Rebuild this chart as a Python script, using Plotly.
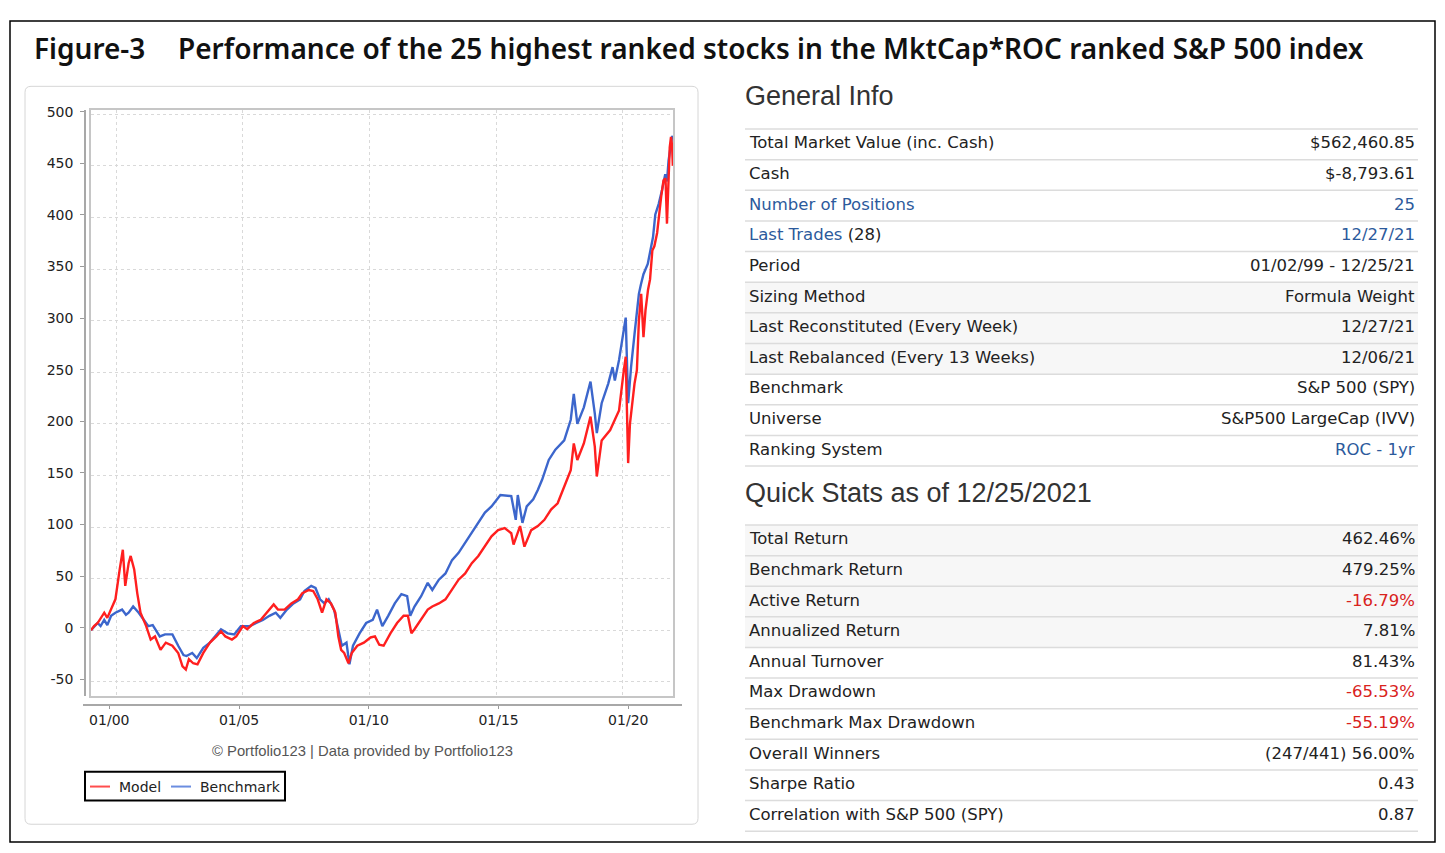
import plotly.graph_objects as go

W, H = 1445, 853

# ---------------- data ----------------
title_left = "Figure-3"
title_right = "Performance of the 25 highest ranked stocks in the MktCap*ROC ranked S&P 500 index"

model_dates = [
    "1999-01-02", "1999-02-15", "1999-04-08", "1999-05-20", "1999-07-12", "1999-08-25", "1999-10-19", "1999-12-20",
    "2000-02-20", "2000-04-05", "2000-05-10", "2000-06-28", "2000-07-27", "2000-09-16", "2000-10-30", "2000-12-16",
    "2001-03-08", "2001-05-12", "2001-07-13", "2001-10-01", "2001-12-16",
    "2002-03-21", "2002-06-13", "2002-08-14", "2002-10-01", "2002-11-14",
    "2003-01-15", "2003-03-18", "2003-06-10", "2003-09-13", "2003-12-16",
    "2004-02-20", "2004-04-23", "2004-07-27", "2004-09-27",
    "2005-01-01", "2005-03-04", "2005-06-07", "2005-09-13", "2005-12-16",
    "2006-03-21", "2006-05-22", "2006-08-25", "2006-12-01",
    "2007-03-08", "2007-05-08", "2007-08-11", "2007-10-12", "2007-12-16",
    "2008-02-17", "2008-04-20", "2008-06-25", "2008-08-26", "2008-10-09", "2008-11-18",
    "2009-01-01", "2009-03-04", "2009-04-20", "2009-07-09", "2009-10-12",
    "2010-01-16", "2010-03-21", "2010-05-22", "2010-07-24", "2010-10-30",
    "2011-02-03", "2011-05-08", "2011-07-09", "2011-08-29", "2011-10-12",
    "2012-01-16", "2012-04-20", "2012-06-25", "2012-09-28",
    "2013-01-01", "2013-04-06", "2013-07-09", "2013-10-12",
    "2014-01-16", "2014-04-20", "2014-07-24", "2014-10-27",
    "2015-01-30", "2015-05-05", "2015-08-08", "2015-09-10", "2015-12-13",
    "2016-02-14", "2016-05-22", "2016-08-25", "2016-11-28",
    "2017-03-04", "2017-06-07", "2017-08-08", "2017-12-13",
    "2018-01-26", "2018-03-18", "2018-06-20", "2018-09-24", "2018-11-25", "2018-12-24",
    "2019-03-04", "2019-07-05", "2019-09-10", "2019-11-10",
    "2020-01-12", "2020-02-14", "2020-03-20", "2020-04-15", "2020-06-20", "2020-07-24",
    "2020-08-22", "2020-09-24", "2020-10-27", "2020-11-25",
    "2021-01-01", "2021-01-30", "2021-03-04", "2021-04-02", "2021-05-12", "2021-06-10",
    "2021-07-09", "2021-08-12", "2021-09-10", "2021-10-01", "2021-11-10", "2021-11-28",
    "2021-12-13", "2021-12-25",
]
model_values = [
    0, 4, 7, 12, 17, 12, 20, 30,
    59, 78, 43, 65, 72, 59, 36, 17,
    4, -9, -6, -19, -12,
    -15, -22, -35, -38, -28,
    -32, -33, -22, -12, -6,
    -1, -6, -9, -6,
    4, 1, 7, 10, 17,
    25, 20, 20, 26,
    30, 36, 39, 38, 30,
    17, 30, 26, 17, -6, -19,
    -22, -32, -22, -15, -12,
    -7, -6, -14, -15, -3,
    7, 14, 14, -3, 1,
    10, 20, 23, 26,
    30, 39, 49, 55,
    65, 72, 81, 91,
    97, 99, 94, 83, 101,
    81, 97, 101, 107,
    117, 123, 133, 155,
    181, 165, 181, 207, 178, 149,
    184, 194, 204, 213,
    249, 265, 162, 200, 239, 252,
    300, 326, 284, 310,
    330, 340, 368, 372, 385, 405,
    420, 436, 438, 394, 468, 478,
    470, 450,
]

bench_dates = [
    "1999-01-02", "1999-02-15", "1999-04-08", "1999-05-20", "1999-07-12", "1999-08-25", "1999-10-19", "1999-12-20",
    "2000-03-25", "2000-05-20", "2000-06-28", "2000-09-01", "2000-11-20",
    "2001-02-03", "2001-04-08", "2001-06-10", "2001-09-20", "2001-12-05",
    "2002-03-21", "2002-06-13", "2002-08-28", "2002-10-10",
    "2003-01-01", "2003-03-08", "2003-06-10", "2003-09-13", "2003-12-16",
    "2004-02-20", "2004-05-26", "2004-08-29", "2004-12-02",
    "2005-04-08", "2005-07-12", "2005-10-16",
    "2006-01-19", "2006-04-20", "2006-06-25", "2006-09-28",
    "2007-01-01", "2007-04-06", "2007-06-07", "2007-09-13", "2007-11-14",
    "2008-01-19", "2008-03-21", "2008-05-22", "2008-08-08", "2008-10-09", "2008-11-28",
    "2009-02-03", "2009-03-18", "2009-05-08", "2009-08-11", "2009-11-14",
    "2010-02-17", "2010-04-20", "2010-07-05", "2010-09-28",
    "2011-01-01", "2011-04-06", "2011-06-28", "2011-08-12", "2011-10-12",
    "2012-01-16", "2012-04-20", "2012-06-25", "2012-09-28",
    "2013-01-01", "2013-04-06", "2013-07-09", "2013-10-12",
    "2014-01-16", "2014-04-20", "2014-07-24", "2014-10-27",
    "2015-03-04", "2015-08-08", "2015-10-12", "2015-11-10",
    "2016-01-16", "2016-03-18", "2016-06-20", "2016-08-25", "2016-10-27",
    "2017-01-30", "2017-05-05", "2017-09-10", "2017-12-13",
    "2018-01-26", "2018-03-18", "2018-06-20", "2018-09-24", "2018-11-25", "2018-12-24",
    "2019-03-04", "2019-06-07", "2019-08-08", "2019-09-10", "2019-11-10",
    "2020-01-12", "2020-02-14", "2020-03-20", "2020-05-01", "2020-06-20",
    "2020-08-22", "2020-09-20", "2020-10-27", "2020-12-28",
    "2021-02-03", "2021-03-14", "2021-04-16", "2021-06-03", "2021-07-20",
    "2021-09-06", "2021-10-01", "2021-10-24", "2021-12-13", "2021-12-25",
]
bench_values = [
    0, 3, 7, 4, 10, 5, 14, 17,
    20, 15, 17, 23, 17,
    10, 4, 5, -6, -4,
    -4, -15, -24, -25,
    -22, -27, -17, -12, -4,
    1, -3, -4, 4,
    4, 7, 10,
    14, 17, 12, 20,
    26, 30, 38, 43, 41,
    30, 26, 30, 20, 1, -15,
    -12, -33, -15, -3, 7,
    10, 20, 4, 14,
    26, 35, 33, 14, 23,
    33, 46, 39, 49,
    55, 68, 75, 85,
    94, 104, 114, 120,
    131, 130, 107, 131,
    104, 120, 127, 136, 146,
    165, 175, 184, 204,
    229, 200, 216, 241, 210, 191,
    220, 239, 255, 242, 262,
    287, 303, 220, 255, 287,
    326, 335, 345, 355,
    368, 381, 403, 413, 426,
    442, 435, 455, 478, 479,
]

y_ticks = [-50, 0, 50, 100, 150, 200, 250, 300, 350, 400, 450, 500]
x_tick_dates = ["2000-01-01", "2005-01-01", "2010-01-01", "2015-01-01", "2020-01-01"]
x_tick_labels = ["01/00", "01/05", "01/10", "01/15", "01/20"]

series_names = ["Model", "Benchmark"]
credit_text = "© Portfolio123 | Data provided by Portfolio123"

general_title = "General Info"
general_labels = [
    "Total Market Value (inc. Cash)", "Cash", "Number of Positions", "Last Trades (28)", "Period",
    "Sizing Method", "Last Reconstituted (Every Week)", "Last Rebalanced (Every 13 Weeks)",
    "Benchmark", "Universe", "Ranking System",
]
general_values = [
    "$562,460.85", "$-8,793.61", "25", "12/27/21", "01/02/99 - 12/25/21",
    "Formula Weight", "12/27/21", "12/06/21",
    "S&P 500 (SPY)", "S&P500 LargeCap (IVV)", "ROC - 1yr",
]

stats_title = "Quick Stats as of 12/25/2021"
stats_labels = [
    "Total Return", "Benchmark Return", "Active Return", "Annualized Return", "Annual Turnover",
    "Max Drawdown", "Benchmark Max Drawdown", "Overall Winners", "Sharpe Ratio",
    "Correlation with S&P 500 (SPY)",
]
stats_values = [
    "462.46%", "479.25%", "-16.79%", "7.81%", "81.43%",
    "-65.53%", "-55.19%", "(247/441) 56.00%", "0.43", "0.87",
]

# ---------------- styling ----------------
RED = "#ff1f1f"
BLUE = "#3c66cc"
LINK = "#2c5a9c"
NEG = "#d9231d"
TXT = "#222222"
TABLE_FONT = "DejaVu Sans"
CHART_FONT = "DejaVu Sans"

link_labels = {"Number of Positions": "Number of Positions", "Last Trades (28)": "Last Trades"}
link_value_rows = {"Number of Positions", "Last Trades (28)", "Ranking System"}
shaded_general = {"Sizing Method", "Last Reconstituted (Every Week)", "Last Rebalanced (Every 13 Weeks)"}
shaded_stats = {"Total Return", "Benchmark Return", "Active Return", "Annualized Return"}


def px(x):
    return x / W


def py(y):
    return 1 - y / H


fig = go.Figure()

# plot area geometry (pixels)
PL, PR, PT, PB = 91, 673, 104, 695
Y_RANGE = [-64, 504]
LABEL_SHIFT = 2.5  # small upward nudge of the outer y-axis labels

fig.add_trace(go.Scatter(
    x=bench_dates, y=bench_values, name=series_names[1], mode="lines",
    line=dict(color=BLUE, width=2.4), xaxis="x", yaxis="y", showlegend=False,
))
fig.add_trace(go.Scatter(
    x=model_dates, y=model_values, name=series_names[0], mode="lines",
    line=dict(color=RED, width=2.4), xaxis="x", yaxis="y", showlegend=False,
))
# helpers so the offset axes get drawn
fig.add_trace(go.Scatter(x=[x_tick_dates[0]], y=[None], xaxis="x", yaxis="y2",
                         showlegend=False, hoverinfo="skip", mode="lines"))
fig.add_trace(go.Scatter(x=[x_tick_dates[0]], y=[None], xaxis="x2", yaxis="y3",
                         showlegend=False, hoverinfo="skip", mode="lines"))

grid = dict(showgrid=True, gridcolor="#d9d9d9", griddash="3px,3px", gridwidth=1)

fig.update_layout(
    width=W, height=H, autosize=False,
    margin=dict(l=0, r=0, t=0, b=0),
    paper_bgcolor="white", plot_bgcolor="rgba(0,0,0,0)",
    font=dict(family=CHART_FONT, size=14, color=TXT),
    xaxis=dict(
        domain=[px(PL), px(PR)], anchor="y", type="date",
        range=["1999-01-02", "2021-12-27"],
        tickvals=x_tick_dates, showticklabels=False, ticks="",
        showline=True, mirror=True, linecolor="#c6c6c6", linewidth=1.5,
        zeroline=False, **grid,
    ),
    yaxis=dict(
        domain=[py(PB), py(PT)], anchor="x",
        range=Y_RANGE, tickvals=y_ticks, showticklabels=False, ticks="",
        showline=True, mirror=True, linecolor="#c6c6c6", linewidth=1.5,
        zeroline=False, **grid,
    ),
    yaxis2=dict(
        overlaying="y", anchor="free", position=px(85), side="left",
        range=[Y_RANGE[0] - LABEL_SHIFT, Y_RANGE[1] - LABEL_SHIFT],
        tickvals=y_ticks, ticktext=[str(v) for v in y_ticks],
        ticks="outside", ticklen=4, tickcolor="#9a9a9a", showline=True,
        linecolor="#a8a8a8", linewidth=1.5, showgrid=False, zeroline=False,
        ticklabelstandoff=4,
        tickfont=dict(family=CHART_FONT, size=14, color=TXT),
    ),
    xaxis2=dict(
        domain=[px(83), px(682)], anchor="y3", type="date",
        range=["1998-12-27", "2022-01-26"],
        tickvals=x_tick_dates, ticktext=x_tick_labels,
        ticks="outside", ticklen=3, tickcolor="#9a9a9a", showline=True,
        linecolor="#a8a8a8", linewidth=1.5, showgrid=False, zeroline=False,
        tickfont=dict(family=CHART_FONT, size=14, color=TXT),
    ),
    yaxis3=dict(
        domain=[py(702.7), py(PT)], anchor="x2", visible=False, range=[0, 1],
    ),
    showlegend=False,
)

shapes = []
ann = []

# outer frame
shapes.append(dict(type="rect", xref="paper", yref="paper",
                   x0=px(10), x1=px(1435), y0=py(842), y1=py(14),
                   line=dict(color="black", width=1.5), layer="below"))


# chart card (rounded rect)
def rrect_path(x0, y0, x1, y1, r):
    pts = [
        f"M {px(x0 + r)},{py(y0)}",
        f"L {px(x1 - r)},{py(y0)}",
        f"Q {px(x1)},{py(y0)} {px(x1)},{py(y0 + r)}",
        f"L {px(x1)},{py(y1 - r)}",
        f"Q {px(x1)},{py(y1)} {px(x1 - r)},{py(y1)}",
        f"L {px(x0 + r)},{py(y1)}",
        f"Q {px(x0)},{py(y1)} {px(x0)},{py(y1 - r)}",
        f"L {px(x0)},{py(y0 + r)}",
        f"Q {px(x0)},{py(y0)} {px(x0 + r)},{py(y0)} Z",
    ]
    return " ".join(pts)


shapes.append(dict(type="path", xref="paper", yref="paper",
                   path=rrect_path(25, 80, 698, 824, 6),
                   line=dict(color="#d6d6d6", width=1), layer="below"))

# title
ann.append(dict(text=title_left, x=px(32), y=py(41), xref="paper", yref="paper",
                xanchor="left", yanchor="middle", showarrow=False,
                font=dict(family="Noto Sans", size=28, color="#111", weight=600)))
ann.append(dict(text=title_right, x=px(176), y=py(41), xref="paper", yref="paper",
                xanchor="left", yanchor="middle", showarrow=False,
                font=dict(family="Noto Sans", size=28, color="#111", weight=600)))

# credit
ann.append(dict(text=credit_text, x=px(362), y=py(750), xref="paper", yref="paper",
                xanchor="center", yanchor="middle", showarrow=False,
                font=dict(family="Liberation Sans", size=14.8, color="#555")))

# legend box
shapes.append(dict(type="rect", xref="paper", yref="paper",
                   x0=px(85), x1=px(285), y0=py(800), y1=py(771),
                   line=dict(color="black", width=2)))
shapes.append(dict(type="line", xref="paper", yref="paper",
                   x0=px(90), x1=px(110), y0=py(786), y1=py(786),
                   line=dict(color="#ff4d4d", width=2)))
shapes.append(dict(type="line", xref="paper", yref="paper",
                   x0=px(171), x1=px(191), y0=py(786), y1=py(786),
                   line=dict(color="#6b8de0", width=2)))
ann.append(dict(text=series_names[0], x=px(117), y=py(786), xref="paper", yref="paper",
                xanchor="left", yanchor="middle", showarrow=False,
                font=dict(family=CHART_FONT, size=14, color=TXT)))
ann.append(dict(text=series_names[1], x=px(198), y=py(786), xref="paper", yref="paper",
                xanchor="left", yanchor="middle", showarrow=False,
                font=dict(family=CHART_FONT, size=14, color=TXT)))

# tables
TX0, TX1 = 745, 1418


def add_table(title, title_y, labels, values, top, step, shaded):
    ann.append(dict(text=title, x=px(743), y=py(title_y), xref="paper", yref="paper",
                    xanchor="left", yanchor="middle", showarrow=False,
                    font=dict(family="Liberation Sans", size=27, color="#333")))
    for i, (lab, val) in enumerate(zip(labels, values)):
        y0 = top + i * step
        y1 = y0 + step
        if lab in shaded:
            shapes.append(dict(type="rect", xref="paper", yref="paper",
                               x0=px(TX0), x1=px(TX1), y0=py(y1), y1=py(y0),
                               fillcolor="#f7f7f7", line=dict(width=0), layer="below"))
        cy = (y0 + y1) / 2 - 1.5
        if lab in link_labels:
            part = link_labels[lab]
            rest = lab[len(part):]
            text = f'<span style="color:{LINK}">{part}</span>{rest}'
        else:
            text = lab
        ann.append(dict(text=text, x=px(747), y=py(cy), xref="paper", yref="paper",
                        xanchor="left", yanchor="middle", showarrow=False,
                        font=dict(family=TABLE_FONT, size=16.5, color=TXT)))
        if lab in link_value_rows:
            vcol = LINK
        elif val.startswith("-") and val.endswith("%"):
            vcol = NEG
        else:
            vcol = TXT
        ann.append(dict(text=val, x=px(1417), y=py(cy), xref="paper", yref="paper",
                        xanchor="right", yanchor="middle", showarrow=False,
                        font=dict(family=TABLE_FONT, size=16.5, color=vcol)))
    for i in range(len(labels) + 1):
        yy = top + i * step
        shapes.append(dict(type="line", xref="paper", yref="paper",
                           x0=px(TX0), x1=px(TX1), y0=py(yy), y1=py(yy),
                           line=dict(color="#dcdcdc", width=1.5)))


add_table(general_title, 90, general_labels, general_values, 123, 30.9, shaded_general)
add_table(stats_title, 490, stats_labels, stats_values, 522.3, 30.87, shaded_stats)

fig.update_layout(shapes=shapes, annotations=ann)

fig.write_html("out.html", config={"displayModeBar": False},
               post_script="document.body.style.margin='0';")
